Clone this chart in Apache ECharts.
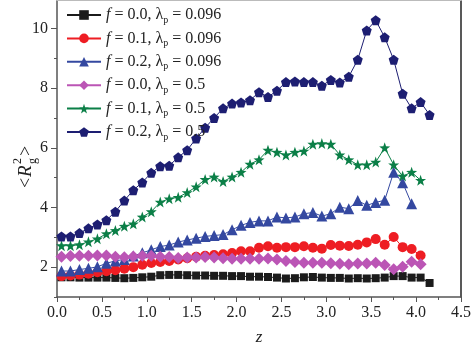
<!DOCTYPE html>
<html>
<head>
<meta charset="utf-8">
<script src="https://cdn.jsdelivr.net/npm/echarts@6/dist/echarts.min.js"></script>
<style>
    html, body { margin: 0; padding: 0; background: #fff; }
    #chart { width: 474px; height: 351px; }
</style>
</head>
<body>
<div id="chart"></div>
<script>
    // z positions of the samples
    let zs = [0.05, 0.15, 0.25, 0.35, 0.45, 0.55, 0.65, 0.75, 0.85, 0.95,
              1.05, 1.15, 1.25, 1.35, 1.45, 1.55, 1.65, 1.75, 1.85, 1.95,
              2.05, 2.15, 2.25, 2.35, 2.45, 2.55, 2.65, 2.75, 2.85, 2.95,
              3.05, 3.15, 3.25, 3.35, 3.45, 3.55, 3.65, 3.75, 3.85, 3.95,
              4.05, 4.15]

    let black = [1.66, 1.66, 1.65, 1.65, 1.65, 1.65, 1.64, 1.63, 1.64, 1.66,
                 1.68, 1.73, 1.74, 1.74, 1.73, 1.72, 1.72, 1.71, 1.71, 1.70,
                 1.70, 1.68, 1.68, 1.67, 1.65, 1.62, 1.63, 1.66, 1.67, 1.65,
                 1.64, 1.64, 1.62, 1.63, 1.62, 1.63, 1.65, 1.70, 1.70, 1.65,
                 1.65, 1.47]
    let red = [1.70, 1.72, 1.75, 1.78, 1.83, 1.86, 1.90, 1.95, 2.00, 2.08,
               2.14, 2.17, 2.21, 2.26, 2.30, 2.35, 2.38, 2.41, 2.43, 2.47,
               2.53, 2.53, 2.65, 2.70, 2.65, 2.67, 2.67, 2.70, 2.65, 2.62,
               2.74, 2.72, 2.71, 2.75, 2.83, 2.94, 2.75, 3.01, 2.67, 2.61,
               2.39]
    let blue = [1.87, 1.87, 1.92, 1.96, 2.01, 2.13, 2.21, 2.26, 2.37, 2.48,
                2.58, 2.69, 2.74, 2.84, 2.91, 2.97, 3.03, 3.06, 3.09, 3.25,
                3.40, 3.50, 3.55, 3.55, 3.68, 3.65, 3.68, 3.79, 3.83, 3.71,
                3.79, 4.01, 3.96, 4.23, 4.07, 4.17, 4.24, 5.18, 4.83, 4.12]
    let pink = [2.35, 2.37, 2.38, 2.38, 2.39, 2.39, 2.35, 2.33, 2.36, 2.38,
                2.38, 2.35, 2.34, 2.31, 2.32, 2.32, 2.34, 2.32, 2.30, 2.28,
                2.28, 2.28, 2.28, 2.29, 2.26, 2.21, 2.17, 2.15, 2.15, 2.15,
                2.13, 2.11, 2.10, 2.12, 2.12, 2.15, 2.07, 1.93, 2.01, 2.18,
                2.10]
    let green = [2.72, 2.72, 2.75, 2.85, 2.95, 3.12, 3.23, 3.37, 3.45, 3.68,
                 3.86, 4.18, 4.29, 4.34, 4.50, 4.69, 4.94, 5.02, 4.87, 5.02,
                 5.18, 5.45, 5.60, 5.92, 5.85, 5.76, 5.85, 5.89, 6.12, 6.14,
                 6.12, 5.76, 5.60, 5.43, 5.43, 5.52, 6.00, 5.43, 5.05, 5.18,
                 4.91]
    let navy = [3.03, 3.03, 3.14, 3.30, 3.43, 3.57, 3.86, 4.23, 4.58, 4.84,
                5.16, 5.38, 5.40, 5.68, 5.92, 6.31, 6.67, 7.00, 7.32, 7.48,
                7.52, 7.59, 7.86, 7.70, 7.91, 8.20, 8.22, 8.20, 8.20, 8.08,
                8.27, 8.19, 8.38, 8.95, 9.93, 10.27, 9.70, 8.95, 7.81, 7.32,
                7.53, 7.10]

    let fLabels = ['0.0', '0.1', '0.2', '0.0', '0.1', '0.2']
    let lambdaLabels = ['0.096', '0.096', '0.096', '0.5', '0.5', '0.5']
    let yTicks = [2, 4, 6, 8, 10]
    let yMinorTicks = [1, 3, 5, 7, 9]

    let serif = 'Liberation Serif'
    let star = 'path://M0,-10 L2.35,-3.24 L9.51,-3.09 L3.8,1.24 L5.88,8.09 L0,4 L-5.88,8.09 L-3.8,1.24 L-9.51,-3.09 L-2.35,-3.24 Z'
    let pentagon = 'path://M0,-10 L9.51,-3.09 L5.88,8.09 L-5.88,8.09 L-9.51,-3.09 Z'

    let styles = [
        {data: black, color: '#1b1b1b', symbol: 'rect', size: 8},
        {data: red, color: '#ee1d23', symbol: 'circle', size: 10},
        {data: blue, color: '#3448a0', symbol: 'triangle', size: 11},
        {data: pink, color: '#bb55b5', symbol: 'diamond', size: 12},
        {data: green, color: '#0b7f47', symbol: star, size: 11},
        {data: navy, color: '#1d1e72', symbol: pentagon, size: 10},
    ]
    let names = fLabels.map((f, i) => 'f = ' + f + ', λp = ' + lambdaLabels[i])

    let chart = echarts.init(document.getElementById('chart'))
    let options = {
        animation: false,
        textStyle: {fontFamily: serif},
        grid: {left: 57, right: 11.5, top: 0, bottom: 47.5},
        legend: {
            orient: 'vertical',
            left: 61,
            top: 2,
            itemWidth: 34,
            itemHeight: 12,
            itemGap: 5.4,
            data: names,
            formatter: (name) => {
                let i = names.indexOf(name)
                return '{i|f}{n| = ' + fLabels[i] + ', λ}{s|p}{n| = ' + lambdaLabels[i] + '}'
            },
            textStyle: {
                rich: {
                    i: {fontFamily: serif, fontStyle: 'italic', fontSize: 16, color: '#222', lineHeight: 20},
                    n: {fontFamily: serif, fontSize: 16, color: '#222', lineHeight: 20},
                    s: {fontFamily: serif, fontSize: 10, color: '#222', lineHeight: 20, verticalAlign: 'bottom'}
                }
            }
        },
        xAxis: [
            {
                type: 'value',
                min: 0,
                max: 4.5,
                interval: 0.5,
                name: 'z',
                nameLocation: 'middle',
                nameGap: 32,
                nameTextStyle: {fontFamily: serif, fontStyle: 'italic', fontSize: 17, color: '#222'},
                splitLine: {show: false},
                axisLine: {lineStyle: {color: '#555', width: 1.5}},
                axisTick: {length: 5, lineStyle: {color: '#555'}},
                minorTick: {show: true, splitNumber: 2, length: 3, lineStyle: {color: '#555'}},
                axisLabel: {
                    margin: 8,
                    fontSize: 16,
                    color: '#222',
                    formatter: (value) => value.toFixed(1)
                }
            },
            {
                type: 'value',
                position: 'top',
                min: 0,
                max: 4.5,
                axisLine: {show: true, lineStyle: {color: '#bbb', width: 2}},
                axisTick: {show: false},
                axisLabel: {show: false},
                splitLine: {show: false}
            }
        ],
        yAxis: [
            {
                type: 'value',
                min: 1,
                max: 10.95,
                splitLine: {show: false},
                axisLine: {show: true, lineStyle: {color: '#555', width: 1.5}},
                axisTick: {length: 6, customValues: yTicks, lineStyle: {color: '#555'}},
                axisLabel: {
                    margin: 9,
                    fontSize: 16,
                    color: '#222',
                    customValues: yTicks
                }
            },
            {
                type: 'value',
                position: 'left',
                min: 1,
                max: 10.95,
                splitLine: {show: false},
                axisLine: {show: false},
                axisTick: {length: 3, customValues: yMinorTicks, lineStyle: {color: '#555'}},
                axisLabel: {show: false}
            },
            {
                type: 'value',
                position: 'right',
                min: 1,
                max: 10.95,
                splitLine: {show: false},
                axisLine: {show: true, lineStyle: {color: '#222', width: 1.5}},
                axisTick: {show: false},
                axisLabel: {show: false}
            }
        ],
        // y axis title <R_g^2>, rotated, with stacked super/subscript
        graphic: [{
            type: 'group',
            x: 26,
            y: 161,
            rotation: Math.PI / 2,
            children: [
                {type: 'text', x: -27, y: 0, style: {text: '<', font: '18px "Liberation Serif"', fill: '#222', verticalAlign: 'middle'}},
                {type: 'text', x: -16, y: 0, style: {text: 'R', font: 'italic 19px "Liberation Serif"', fill: '#222', verticalAlign: 'middle'}},
                {type: 'text', x: -3, y: -8, style: {text: '2', font: '12px "Liberation Serif"', fill: '#222', verticalAlign: 'middle'}},
                {type: 'text', x: -3, y: 7, style: {text: 'g', font: '12px "Liberation Serif"', fill: '#222', verticalAlign: 'middle'}},
                {type: 'text', x: 5, y: 0, style: {text: '>', font: '18px "Liberation Serif"', fill: '#222', verticalAlign: 'middle'}}
            ]
        }],
        series: styles.map((s, i) => ({
            name: names[i],
            type: 'line',
            data: s.data.map((v, k) => [zs[k], v]),
            symbol: s.symbol,
            symbolSize: s.size,
            showAllSymbol: true,
            itemStyle: {color: s.color},
            lineStyle: {color: s.color, width: 1}
        }))
    }
    chart.setOption(options)
</script>
</body>
</html>
